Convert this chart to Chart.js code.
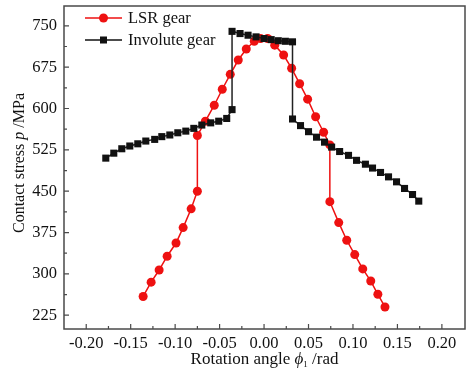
<!DOCTYPE html>
<html>
<head>
<meta charset="utf-8">
<script src="https://cdn.jsdelivr.net/npm/chart.js@4"></script>
<style>
  html, body { margin: 0; padding: 0; background: #fff; }
</style>
</head>
<body>
<canvas id="grafico" width="474" height="384"></canvas>
<script>
// dados
const lsrAngle = [-0.136, -0.127, -0.118, -0.109, -0.099, -0.091, -0.082, -0.075, -0.075, -0.066, -0.056, -0.047, -0.038, -0.029, -0.020, -0.011, -0.004, 0.004, 0.012, 0.022, 0.031, 0.040, 0.049, 0.058, 0.067, 0.074, 0.074, 0.084, 0.093, 0.102, 0.111, 0.120, 0.128, 0.136];
const lsrStress = [259, 285, 307, 332, 356, 384, 418, 450, 551, 577, 606, 635, 662, 688, 708, 722, 727, 727, 715, 697, 673, 645, 617, 585, 557, 534, 431, 393, 361, 335, 309, 287, 263, 240];

const invAngle = [-0.178, -0.169, -0.160, -0.151, -0.142, -0.133, -0.123, -0.115, -0.106, -0.097, -0.088, -0.079, -0.070, -0.060, -0.051, -0.042, -0.036, -0.036, -0.027, -0.018, -0.009, 0.000, 0.008, 0.016, 0.024, 0.032, 0.032, 0.041, 0.050, 0.059, 0.068, 0.076, 0.085, 0.095, 0.104, 0.114, 0.122, 0.131, 0.140, 0.149, 0.158, 0.167, 0.174];
const invStress = [510, 519, 527, 532, 536, 541, 544, 549, 552, 556, 559, 564, 570, 574, 577, 582, 598, 740, 736, 733, 730, 727, 725, 723, 722, 721, 581, 569, 558, 548, 539, 530, 522, 515, 506, 499, 492, 484, 476, 467, 455, 444, 432];

const xTicks = [-0.20, -0.15, -0.10, -0.05, 0.00, 0.05, 0.10, 0.15, 0.20];
const yTicks = [225, 300, 375, 450, 525, 600, 675, 750];

const serif = '"Liberation Serif", "Times New Roman", serif';
const eixoCor = '#4a4a4a';

function pares(xs, ys) {
  return xs.map((x, i) => ({ x: x, y: ys[i] }));
}

// desenha texto com partes em fontes diferentes
function textoMisto(ctx, partes, cx, cy, rot) {
  ctx.save();
  ctx.translate(cx, cy);
  ctx.rotate(rot);
  let total = 0;
  partes.forEach(p => { ctx.font = p.font; total += ctx.measureText(p.t).width; });
  let x = -total / 2;
  ctx.textBaseline = 'middle';
  ctx.textAlign = 'left';
  ctx.fillStyle = '#111';
  partes.forEach(p => {
    ctx.font = p.font;
    ctx.fillText(p.t, x, p.dy || 0);
    x += ctx.measureText(p.t).width;
  });
  ctx.restore();
}

// sem margem extra dos rótulos
function semPadding(s) {
  s.paddingTop = 0; s.paddingBottom = 0; s.paddingLeft = 0; s.paddingRight = 0;
}

const molduraPlugin = {
  id: 'moldura',
  afterDraw(chart) {
    const ctx = chart.ctx;
    const a = chart.chartArea;
    const xs = chart.scales.x, ys = chart.scales.y;
    ctx.save();
    ctx.strokeStyle = eixoCor;
    ctx.lineWidth = 1.5;
    ctx.strokeRect(a.left, a.top, a.right - a.left, a.bottom - a.top);

    // ticks para dentro
    ctx.lineWidth = 1.2;
    ctx.beginPath();
    xTicks.forEach((v, i) => {
      const px = xs.getPixelForValue(v);
      ctx.moveTo(px, a.bottom); ctx.lineTo(px, a.bottom - 5);
      if (i < xTicks.length - 1) {
        const m = xs.getPixelForValue(v + 0.025);
        ctx.moveTo(m, a.bottom); ctx.lineTo(m, a.bottom - 3);
      }
    });
    yTicks.forEach((v, i) => {
      const py = ys.getPixelForValue(v);
      ctx.moveTo(a.left, py); ctx.lineTo(a.left + 5, py);
      const m = ys.getPixelForValue(v + 37.5);
      if (m > a.top) { ctx.moveTo(a.left, m); ctx.lineTo(a.left + 3, m); }
    });
    ctx.stroke();

    // legenda
    const itens = [
      { label: 'LSR gear', cor: '#ee1111', estilo: 'circle', y: 18 },
      { label: 'Involute gear', cor: '#111111', estilo: 'rect', y: 40 }
    ];
    itens.forEach(it => {
      ctx.strokeStyle = it.cor;
      ctx.fillStyle = it.cor;
      ctx.lineWidth = 1.5;
      ctx.beginPath();
      ctx.moveTo(85, it.y); ctx.lineTo(122, it.y);
      ctx.stroke();
      if (it.estilo === 'circle') {
        ctx.beginPath(); ctx.arc(103.5, it.y, 4.5, 0, Math.PI * 2); ctx.fill();
      } else {
        ctx.fillRect(100, it.y - 3.5, 7, 7);
      }
      ctx.fillStyle = '#111';
      ctx.font = '16.5px ' + serif;
      ctx.textBaseline = 'middle';
      ctx.textAlign = 'left';
      ctx.fillText(it.label, 128, it.y + 1);
    });

    // títulos dos eixos
    textoMisto(ctx, [
      { t: 'Rotation angle ', font: '17px ' + serif },
      { t: '\u03d5', font: 'italic 17px ' + serif },
      { t: '1', font: '9px ' + serif, dy: 5 },
      { t: ' /rad', font: '17px ' + serif }
    ], (a.left + a.right) / 2, 360, 0);
    textoMisto(ctx, [
      { t: 'Contact stress ', font: '16px ' + serif },
      { t: 'p', font: 'italic 16px ' + serif },
      { t: ' /MPa', font: '16px ' + serif }
    ], 20, 163, -Math.PI / 2);
    ctx.restore();
  }
};

new Chart(document.getElementById('grafico').getContext('2d'), {
  type: 'scatter',
  data: {
    datasets: [{
      label: 'LSR gear',
      data: pares(lsrAngle, lsrStress),
      showLine: true,
      borderColor: '#ee1111',
      backgroundColor: '#ee1111',
      borderWidth: 1.5,
      pointStyle: 'circle',
      pointRadius: 4.5,
      pointBorderWidth: 0,
      order: 1
    }, {
      label: 'Involute gear',
      data: pares(invAngle, invStress),
      showLine: true,
      borderColor: '#222222',
      backgroundColor: '#111111',
      borderWidth: 1.5,
      pointStyle: 'rect',
      pointRadius: 5,
      pointBorderWidth: 0,
      order: 0
    }]
  },
  options: {
    responsive: false,
    animation: false,
    devicePixelRatio: 1,
    layout: { padding: { top: 6, right: 9, left: 0, bottom: 0 } },
    plugins: { legend: { display: false }, tooltip: { enabled: false } },
    scales: {
      x: {
        type: 'linear',
        min: -0.225,
        max: 0.226,
        grid: { display: false, drawTicks: false },
        border: { display: false },
        afterBuildTicks: s => { s.ticks = xTicks.map(v => ({ value: v })); },
        afterFit: s => { s.height = 55; semPadding(s); },
        ticks: {
          padding: 5,
          color: '#111',
          font: { family: serif, size: 16.5 },
          callback: v => Number(v).toFixed(2)
        }
      },
      y: {
        type: 'linear',
        min: 200,
        max: 786,
        grid: { display: false, drawTicks: false },
        border: { display: false },
        afterBuildTicks: s => { s.ticks = yTicks.map(v => ({ value: v })); },
        afterFit: s => { s.width = 64; semPadding(s); },
        ticks: {
          padding: 7,
          color: '#111',
          font: { family: serif, size: 16.5 },
          callback: v => String(v)
        }
      }
    }
  },
  plugins: [molduraPlugin]
});
</script>
</body>
</html>
